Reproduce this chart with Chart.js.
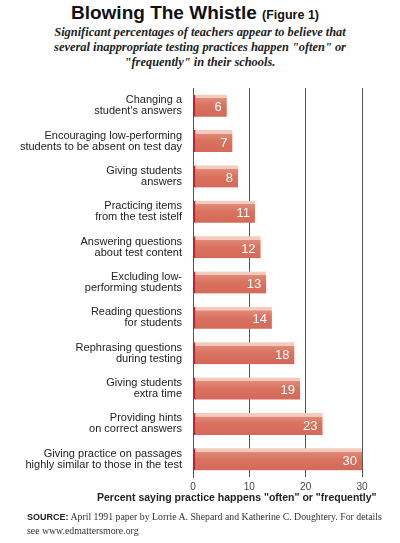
<!DOCTYPE html>
<html>
<head>
<meta charset="utf-8">
<script src="https://cdn.jsdelivr.net/npm/chart.js@4"></script>
<style>
  body { margin: 0; width: 400px; height: 543px; background: #fff; position: relative; overflow: hidden; }
  #title { position: absolute; top: 2px; left: -5px; width: 400px; text-align: center; font-family: 'Liberation Sans', sans-serif; font-weight: bold; font-size: 19px; color: #111; }
  #title small { font-size: 12.5px; }
  #subtitle { position: absolute; top: 25px; left: 0; width: 400px; text-align: center; font-family: 'Liberation Serif', serif; font-style: italic; font-weight: bold; font-size: 12.4px; line-height: 15px; color: #222; }
  #wrap { position: absolute; top: 80px; left: 0; width: 400px; height: 420px; }
  #xtitle { position: absolute; top: 491px; left: 97px; width: 290px; font-family: 'Liberation Sans', sans-serif; font-weight: bold; font-size: 10.5px; color: #222; white-space: nowrap; }
  #source { position: absolute; top: 510px; left: 27px; width: 372px; font-family: 'Liberation Serif', serif; font-size: 9.8px; line-height: 13px; color: #333; }
  #source b { font-family: 'Liberation Sans', sans-serif; font-size: 9px; color: #222; }
</style>
</head>
<body>
<div id="title">Blowing The Whistle <small>(Figure 1)</small></div>
<div id="subtitle">Significant percentages of teachers appear to believe that<br>several inappropriate testing practices happen "often" or<br>"frequently" in their schools.</div>
<div id="wrap"><canvas id="chart"></canvas></div>
<div id="xtitle">Percent saying practice happens "often" or "frequently"</div>
<div id="source"><b>SOURCE:</b> April 1991 paper by Lorrie A. Shepard and Katherine C. Doughtery. For details<br>see www.edmattersmore.org</div>
<script>
// Dados
const categories = [
    ['Changing a', "student's answers"],
    ['Encouraging low-performing', 'students to be absent on test day'],
    ['Giving students', 'answers'],
    ['Practicing items', 'from the test istelf'],
    ['Answering questions', 'about test content'],
    ['Excluding low-', 'performing students'],
    ['Reading questions', 'for students'],
    ['Rephrasing questions', 'during testing'],
    ['Giving students', 'extra time'],
    ['Providing hints', 'on correct answers'],
    ['Giving practice on passages', 'highly similar to those in the test']
];
const percentValues = [6, 7, 8, 11, 12, 13, 14, 18, 19, 23, 30];
const xTicks = [0, 10, 20, 30];

const BAR_MAIN = '#d9725f';
const BAR_LIGHT = '#f4cbbd';
const BAR_EDGE = '#c8202a';
const BAR_H = 22;

// Gradiente por barra: faixa clara no topo
function barFill(context) {
    const chart = context.chart;
    const yScale = chart.scales.y;
    if (!chart.chartArea || !yScale) return BAR_MAIN;
    const yc = yScale.getPixelForValue(context.dataIndex);
    const g = chart.ctx.createLinearGradient(0, yc - BAR_H / 2, 0, yc + BAR_H / 2);
    g.addColorStop(0, BAR_LIGHT);
    g.addColorStop(0.16, BAR_LIGHT);
    g.addColorStop(0.17, '#e18a79');
    g.addColorStop(0.5, BAR_MAIN);
    g.addColorStop(1, '#d4695a');
    return g;
}

// Rótulos brancos dentro das barras
const valueLabels = {
    id: 'valueLabels',
    afterDatasetsDraw(chart) {
        const ctx = chart.ctx;
        const meta = chart.getDatasetMeta(0);
        ctx.save();
        ctx.fillStyle = '#ffffff';
        ctx.font = '13px "Liberation Sans", sans-serif';
        ctx.textAlign = 'right';
        ctx.textBaseline = 'middle';
        meta.data.forEach((bar, i) => {
            ctx.fillText(String(percentValues[i]), bar.x - 5, bar.y + 2);
        });
        ctx.restore();
    }
};

new Chart(document.getElementById('chart'), {
    type: 'bar',
    data: {
        labels: categories,
        datasets: [{
            data: percentValues,
            backgroundColor: barFill,
            borderColor: BAR_EDGE,
            borderWidth: { left: 2, top: 0, right: 0, bottom: 0 },
            borderSkipped: false,
            barThickness: BAR_H
        }]
    },
    options: {
        indexAxis: 'y',
        responsive: true,
        maintainAspectRatio: false,
        animation: false,
        layout: { padding: { top: 8, right: 38, bottom: 0, left: 0 } },
        plugins: {
            legend: { display: false },
            tooltip: { enabled: false }
        },
        scales: {
            x: {
                min: 0,
                max: 30,
                afterBuildTicks(scale) {
                    scale.ticks = xTicks.map(v => ({ value: v }));
                },
                afterFit(scale) {
                    scale.height = 23;
                    scale.paddingLeft = 0;
                    scale.paddingRight = 0;
                },
                grid: { color: '#555', lineWidth: 1, drawTicks: false },
                border: { display: false },
                ticks: {
                    color: '#444',
                    padding: 4,
                    font: { family: 'Liberation Sans', size: 10 }
                }
            },
            y: {
                afterFit(scale) {
                    scale.width = 193;
                    scale.paddingTop = 0;
                    scale.paddingBottom = 0;
                },
                grid: { display: false },
                border: { display: true, color: '#555', width: 1 },
                ticks: {
                    color: '#222',
                    padding: 3,
                    font: { family: 'Liberation Sans', size: 11, lineHeight: 1.0 }
                }
            }
        }
    },
    plugins: [valueLabels]
});
</script>
</body>
</html>
